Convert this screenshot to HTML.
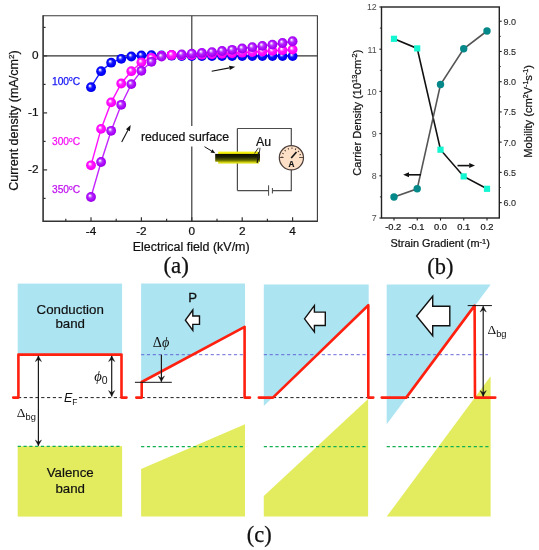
<!DOCTYPE html>
<html lang="en">
<head>
<meta charset="utf-8">
<title>Figure</title>
<style>
html,body{margin:0;padding:0;background:#fff;}
body{width:539px;height:550px;overflow:hidden;}
svg{display:block;}
.sa{font-family:"Liberation Sans",Arial,Helvetica,sans-serif;}
.se{font-family:"Liberation Serif","Times New Roman",Times,serif;}

</style>
</head>
<body>
<svg width="539" height="550" viewBox="0 0 539 550" fill="#111">
<defs>
<radialGradient id="gb" cx="0.5" cy="0.5" r="0.52" fx="0.37" fy="0.34">
<stop offset="0" stop-color="#ffffff"/><stop offset="0.1" stop-color="#e8e8ff"/><stop offset="0.26" stop-color="#7070ff"/><stop offset="0.45" stop-color="#1414ff"/><stop offset="0.8" stop-color="#0000fa"/><stop offset="1" stop-color="#0000dc"/>
</radialGradient>
<radialGradient id="gm" cx="0.5" cy="0.5" r="0.52" fx="0.37" fy="0.34">
<stop offset="0" stop-color="#ffffff"/><stop offset="0.1" stop-color="#ffe8ff"/><stop offset="0.26" stop-color="#ff80ff"/><stop offset="0.45" stop-color="#ff1cff"/><stop offset="0.8" stop-color="#ff00ff"/><stop offset="1" stop-color="#e600e6"/>
</radialGradient>
<radialGradient id="gp" cx="0.5" cy="0.5" r="0.52" fx="0.37" fy="0.34">
<stop offset="0" stop-color="#ffffff"/><stop offset="0.1" stop-color="#f4e4ff"/><stop offset="0.26" stop-color="#cf7aff"/><stop offset="0.45" stop-color="#b424ff"/><stop offset="0.8" stop-color="#a800fa"/><stop offset="1" stop-color="#9200dc"/>
</radialGradient>
<linearGradient id="slab" x1="0" y1="0" x2="0" y2="1">
<stop offset="0" stop-color="#f8f410"/><stop offset="0.22" stop-color="#f0ec00"/><stop offset="0.78" stop-color="#c4c400"/><stop offset="1" stop-color="#e0e020"/>
</linearGradient>
<linearGradient id="slab2" x1="0" y1="0" x2="0" y2="1">
<stop offset="0" stop-color="#0c0c00"/><stop offset="0.4" stop-color="#1c2000"/><stop offset="0.75" stop-color="#565c00"/><stop offset="1" stop-color="#a4a800"/>
</linearGradient>
</defs>
<rect width="539" height="550" fill="#fff"/>
<g id="panel-a">
<path d="M43.1 15.8H317.4V221.3" fill="none" stroke="#3a3a3a" stroke-width="1.1"/>
<path d="M43.1 15.3V221.3H317.9" fill="none" stroke="#333" stroke-width="1.6"/>
<line x1="43.1" y1="55.9" x2="317.4" y2="55.9" stroke="#333" stroke-width="1.15"/>
<line x1="191.8" y1="15.8" x2="191.8" y2="221.3" stroke="#333" stroke-width="1.15"/>
<line x1="43.1" y1="27.4" x2="45.6" y2="27.4" stroke="#333" stroke-width="1.2"/>
<line x1="43.1" y1="55.9" x2="47.1" y2="55.9" stroke="#333" stroke-width="1.2"/>
<line x1="43.1" y1="84.4" x2="45.6" y2="84.4" stroke="#333" stroke-width="1.2"/>
<line x1="43.1" y1="112.9" x2="47.1" y2="112.9" stroke="#333" stroke-width="1.2"/>
<line x1="43.1" y1="141.4" x2="45.6" y2="141.4" stroke="#333" stroke-width="1.2"/>
<line x1="43.1" y1="169.9" x2="47.1" y2="169.9" stroke="#333" stroke-width="1.2"/>
<line x1="43.1" y1="198.4" x2="45.6" y2="198.4" stroke="#333" stroke-width="1.2"/>
<line x1="65.8" y1="221.3" x2="65.8" y2="218.8" stroke="#333" stroke-width="1.2"/>
<line x1="91" y1="221.3" x2="91" y2="217.3" stroke="#333" stroke-width="1.2"/>
<line x1="116.2" y1="221.3" x2="116.2" y2="218.8" stroke="#333" stroke-width="1.2"/>
<line x1="141.4" y1="221.3" x2="141.4" y2="217.3" stroke="#333" stroke-width="1.2"/>
<line x1="166.6" y1="221.3" x2="166.6" y2="218.8" stroke="#333" stroke-width="1.2"/>
<line x1="191.8" y1="221.3" x2="191.8" y2="217.3" stroke="#333" stroke-width="1.2"/>
<line x1="217" y1="221.3" x2="217" y2="218.8" stroke="#333" stroke-width="1.2"/>
<line x1="242.2" y1="221.3" x2="242.2" y2="217.3" stroke="#333" stroke-width="1.2"/>
<line x1="267.4" y1="221.3" x2="267.4" y2="218.8" stroke="#333" stroke-width="1.2"/>
<line x1="292.6" y1="221.3" x2="292.6" y2="217.3" stroke="#333" stroke-width="1.2"/>
<text stroke="#111" stroke-width="0.22" x="38.5" y="59.3" text-anchor="end" class="sa" font-size="11.8">0</text>
<text stroke="#111" stroke-width="0.22" x="38.5" y="116.3" text-anchor="end" class="sa" font-size="11.8">-1</text>
<text stroke="#111" stroke-width="0.22" x="38.5" y="173.3" text-anchor="end" class="sa" font-size="11.8">-2</text>
<text stroke="#111" stroke-width="0.22" x="91" y="234.8" text-anchor="middle" class="sa" font-size="11.8">-4</text>
<text stroke="#111" stroke-width="0.22" x="141.4" y="234.8" text-anchor="middle" class="sa" font-size="11.8">-2</text>
<text stroke="#111" stroke-width="0.22" x="191.8" y="234.8" text-anchor="middle" class="sa" font-size="11.8">0</text>
<text stroke="#111" stroke-width="0.22" x="242.2" y="234.8" text-anchor="middle" class="sa" font-size="11.8">2</text>
<text stroke="#111" stroke-width="0.22" x="292.6" y="234.8" text-anchor="middle" class="sa" font-size="11.8">4</text>
<text stroke="#111" stroke-width="0.22" transform="translate(18.2,120.5) rotate(-90)" text-anchor="middle" class="sa" font-size="12.55">Current density (mA/cm<tspan dy="-4" font-size="8">2</tspan><tspan dy="4">)</tspan></text>
<text stroke="#111" stroke-width="0.22" x="191.2" y="251" text-anchor="middle" class="sa" font-size="12.45">Electrical field (kV/m)</text>
<text x="176.2" y="273" text-anchor="middle" class="se" font-size="23" stroke="#111" stroke-width="0.25">(a)</text>
<polyline points="91,87.2 101.08,71.2 111.16,62.7 121.24,58.8 131.32,56.5 141.4,55.5 151.48,55.1 161.56,55.4 171.64,55.7 181.72,56 191.8,56.1 201.88,56.1 211.96,56.1 222.04,56.1 232.12,56.1 242.2,56.1 252.28,56.1 262.36,56.1 272.44,56.1 282.52,56.1 292.6,56.1" fill="none" stroke="#1a1aff" stroke-width="1.4"/>
<circle cx="91" cy="87.2" r="4.9" fill="url(#gb)"/>
<circle cx="101.08" cy="71.2" r="4.9" fill="url(#gb)"/>
<circle cx="111.16" cy="62.7" r="4.9" fill="url(#gb)"/>
<circle cx="121.24" cy="58.8" r="4.9" fill="url(#gb)"/>
<circle cx="131.32" cy="56.5" r="4.9" fill="url(#gb)"/>
<circle cx="141.4" cy="55.5" r="4.9" fill="url(#gb)"/>
<circle cx="151.48" cy="55.1" r="4.9" fill="url(#gb)"/>
<circle cx="161.56" cy="55.4" r="4.9" fill="url(#gb)"/>
<circle cx="171.64" cy="55.7" r="4.9" fill="url(#gb)"/>
<circle cx="181.72" cy="56" r="4.9" fill="url(#gb)"/>
<circle cx="191.8" cy="56.1" r="4.9" fill="url(#gb)"/>
<circle cx="201.88" cy="56.1" r="4.9" fill="url(#gb)"/>
<circle cx="211.96" cy="56.1" r="4.9" fill="url(#gb)"/>
<circle cx="222.04" cy="56.1" r="4.9" fill="url(#gb)"/>
<circle cx="232.12" cy="56.1" r="4.9" fill="url(#gb)"/>
<circle cx="242.2" cy="56.1" r="4.9" fill="url(#gb)"/>
<circle cx="252.28" cy="56.1" r="4.9" fill="url(#gb)"/>
<circle cx="262.36" cy="56.1" r="4.9" fill="url(#gb)"/>
<circle cx="272.44" cy="56.1" r="4.9" fill="url(#gb)"/>
<circle cx="282.52" cy="56.1" r="4.9" fill="url(#gb)"/>
<circle cx="292.6" cy="56.1" r="4.9" fill="url(#gb)"/>
<polyline points="91,165.3 101.08,128.9 111.16,102.4 121.24,83.5 131.32,71.2 141.4,62.3 151.48,57.8 161.56,55.9 171.64,55.3 181.72,55.4 191.8,55.1 201.88,54.7 211.96,54.3 222.04,53.8 232.12,53.3 242.2,52.7 252.28,52.1 262.36,51.5 272.44,50.9 282.52,50.2 292.6,49.5" fill="none" stroke="#ff10ff" stroke-width="1.4"/>
<circle cx="91" cy="165.3" r="4.9" fill="url(#gm)"/>
<circle cx="101.08" cy="128.9" r="4.9" fill="url(#gm)"/>
<circle cx="111.16" cy="102.4" r="4.9" fill="url(#gm)"/>
<circle cx="121.24" cy="83.5" r="4.9" fill="url(#gm)"/>
<circle cx="131.32" cy="71.2" r="4.9" fill="url(#gm)"/>
<circle cx="141.4" cy="62.3" r="4.9" fill="url(#gm)"/>
<circle cx="151.48" cy="57.8" r="4.9" fill="url(#gm)"/>
<circle cx="161.56" cy="55.9" r="4.9" fill="url(#gm)"/>
<circle cx="171.64" cy="55.3" r="4.9" fill="url(#gm)"/>
<circle cx="181.72" cy="55.4" r="4.9" fill="url(#gm)"/>
<circle cx="191.8" cy="55.1" r="4.9" fill="url(#gm)"/>
<circle cx="201.88" cy="54.7" r="4.9" fill="url(#gm)"/>
<circle cx="211.96" cy="54.3" r="4.9" fill="url(#gm)"/>
<circle cx="222.04" cy="53.8" r="4.9" fill="url(#gm)"/>
<circle cx="232.12" cy="53.3" r="4.9" fill="url(#gm)"/>
<circle cx="242.2" cy="52.7" r="4.9" fill="url(#gm)"/>
<circle cx="252.28" cy="52.1" r="4.9" fill="url(#gm)"/>
<circle cx="262.36" cy="51.5" r="4.9" fill="url(#gm)"/>
<circle cx="272.44" cy="50.9" r="4.9" fill="url(#gm)"/>
<circle cx="282.52" cy="50.2" r="4.9" fill="url(#gm)"/>
<circle cx="292.6" cy="49.5" r="4.9" fill="url(#gm)"/>
<polyline points="91,197 101.08,162 111.16,130.8 121.24,104.8 131.32,84.1 141.4,70.8 151.48,61.8 161.56,56.6 171.64,55 181.72,54.4 191.8,53.6 201.88,52.9 211.96,52.1 222.04,51 232.12,49.8 242.2,48.5 252.28,47.2 262.36,45.9 272.44,44.6 282.52,43 292.6,41.2" fill="none" stroke="#c425ff" stroke-width="1.4"/>
<circle cx="91" cy="197" r="4.9" fill="url(#gp)"/>
<circle cx="101.08" cy="162" r="4.9" fill="url(#gp)"/>
<circle cx="111.16" cy="130.8" r="4.9" fill="url(#gp)"/>
<circle cx="121.24" cy="104.8" r="4.9" fill="url(#gp)"/>
<circle cx="131.32" cy="84.1" r="4.9" fill="url(#gp)"/>
<circle cx="141.4" cy="70.8" r="4.9" fill="url(#gp)"/>
<circle cx="151.48" cy="61.8" r="4.9" fill="url(#gp)"/>
<circle cx="161.56" cy="56.6" r="4.9" fill="url(#gp)"/>
<circle cx="171.64" cy="55" r="4.9" fill="url(#gp)"/>
<circle cx="181.72" cy="54.4" r="4.9" fill="url(#gp)"/>
<circle cx="191.8" cy="53.6" r="4.9" fill="url(#gp)"/>
<circle cx="201.88" cy="52.9" r="4.9" fill="url(#gp)"/>
<circle cx="211.96" cy="52.1" r="4.9" fill="url(#gp)"/>
<circle cx="222.04" cy="51" r="4.9" fill="url(#gp)"/>
<circle cx="232.12" cy="49.8" r="4.9" fill="url(#gp)"/>
<circle cx="242.2" cy="48.5" r="4.9" fill="url(#gp)"/>
<circle cx="252.28" cy="47.2" r="4.9" fill="url(#gp)"/>
<circle cx="262.36" cy="45.9" r="4.9" fill="url(#gp)"/>
<circle cx="272.44" cy="44.6" r="4.9" fill="url(#gp)"/>
<circle cx="282.52" cy="43" r="4.9" fill="url(#gp)"/>
<circle cx="292.6" cy="41.2" r="4.9" fill="url(#gp)"/>
<circle cx="171.64" cy="54.9" r="4.9" fill="url(#gm)"/>
<text x="52" y="84.8" class="sa" font-size="10.2" fill="#1414f4" stroke="#1414f4" stroke-width="0.25">100<tspan dy="-3.5" font-size="6.5">o</tspan><tspan dy="3.5">C</tspan></text>
<text x="52" y="145" class="sa" font-size="10.2" fill="#f410f4" stroke="#f410f4" stroke-width="0.25">300<tspan dy="-3.5" font-size="6.5">o</tspan><tspan dy="3.5">C</tspan></text>
<text x="52" y="193.3" class="sa" font-size="10.2" fill="#c014ee" stroke="#c014ee" stroke-width="0.25">350<tspan dy="-3.5" font-size="6.5">o</tspan><tspan dy="3.5">C</tspan></text>
<line x1="121.7" y1="142" x2="127.89" y2="130.3" stroke="#111" stroke-width="1.1"/>
<polygon points="130.7,125 129.84,131.33 125.95,129.27" fill="#111"/>
<line x1="211.7" y1="71.2" x2="229.4" y2="67.9" stroke="#111" stroke-width="1.1"/>
<polygon points="235.3,66.8 229.8,70.06 229,65.74" fill="#111"/>
<rect x="139" y="126" width="92" height="20.5" fill="#fff"/>
<text stroke="#111" stroke-width="0.22" x="140.9" y="141.2" class="sa" font-size="12.3">reduced surface</text>
<text stroke="#111" stroke-width="0.22" x="256" y="146.1" class="sa" font-size="12.3">Au</text>
<path d="M237.4 128.5H291.3V190.6H272.4M268.6 190.6H237.4Z" fill="none" stroke="#4c4c4c" stroke-width="1.2"/>
<path d="M237.4 128.5V190.6" fill="none" stroke="#4c4c4c" stroke-width="1.2"/>
<line x1="268.6" y1="185.3" x2="268.6" y2="195.7" stroke="#444" stroke-width="1"/>
<line x1="272.4" y1="188" x2="272.4" y2="193.5" stroke="#444" stroke-width="1"/>
<rect x="218.2" y="151.6" width="40.6" height="12" fill="url(#slab)"/>
<rect x="215.2" y="153.9" width="44.8" height="7.9" fill="url(#slab2)"/>
<line x1="258.6" y1="152.2" x2="257.2" y2="163" stroke="#1a1a10" stroke-width="1.3"/>
<line x1="204.5" y1="146.7" x2="211.44" y2="150.88" stroke="#111" stroke-width="1"/>
<polygon points="215.3,153.2 210.52,152.42 212.37,149.34" fill="#111"/>
<line x1="258.4" y1="147.8" x2="254.6" y2="153.4" stroke="#222" stroke-width="0.9"/>
<line x1="260" y1="147.8" x2="258.4" y2="160" stroke="#222" stroke-width="0.9"/>
<circle cx="291.4" cy="157.8" r="12.1" fill="#fde0c6" stroke="#4a3c38" stroke-width="1.2"/>
<path d="M282.1 157.6A9.3 9.3 0 0 1 300.7 157.6" fill="none" stroke="#4a3c38" stroke-width="1.5" stroke-dasharray="1 2.65"/>
<path d="M279.6 157.5H283.6M299.2 157.5H303.2" fill="none" stroke="#4a3c38" stroke-width="0.9"/>
<line x1="291.2" y1="158" x2="296.5" y2="152" stroke="#111" stroke-width="1.6"/>
<text stroke="#111" stroke-width="0.22" x="291.4" y="166.9" text-anchor="middle" class="sa" font-size="8.2" font-weight="bold">A</text>
</g>
<g id="panel-b">
<rect x="381.5" y="7.0" width="117.8" height="211" fill="#fff" stroke="#222" stroke-width="1.4"/>
<line x1="381.5" y1="218" x2="379.4" y2="218" stroke="#222" stroke-width="1.1"/>
<line x1="381.5" y1="196.9" x2="379.9" y2="196.9" stroke="#222" stroke-width="0.9"/>
<text x="376.8" y="221.3" text-anchor="end" class="sa" font-size="8.9" fill="#4a4a4a" stroke="none">7</text>
<line x1="381.5" y1="175.8" x2="379.4" y2="175.8" stroke="#222" stroke-width="1.1"/>
<line x1="381.5" y1="154.7" x2="379.9" y2="154.7" stroke="#222" stroke-width="0.9"/>
<text x="376.8" y="179.1" text-anchor="end" class="sa" font-size="8.9" fill="#4a4a4a" stroke="none">8</text>
<line x1="381.5" y1="133.6" x2="379.4" y2="133.6" stroke="#222" stroke-width="1.1"/>
<line x1="381.5" y1="112.5" x2="379.9" y2="112.5" stroke="#222" stroke-width="0.9"/>
<text x="376.8" y="136.9" text-anchor="end" class="sa" font-size="8.9" fill="#4a4a4a" stroke="none">9</text>
<line x1="381.5" y1="91.4" x2="379.4" y2="91.4" stroke="#222" stroke-width="1.1"/>
<line x1="381.5" y1="70.3" x2="379.9" y2="70.3" stroke="#222" stroke-width="0.9"/>
<text x="376.8" y="94.7" text-anchor="end" class="sa" font-size="8.9" fill="#4a4a4a" stroke="none">10</text>
<line x1="381.5" y1="49.2" x2="379.4" y2="49.2" stroke="#222" stroke-width="1.1"/>
<line x1="381.5" y1="28.1" x2="379.9" y2="28.1" stroke="#222" stroke-width="0.9"/>
<text x="376.8" y="52.5" text-anchor="end" class="sa" font-size="8.9" fill="#4a4a4a" stroke="none">11</text>
<line x1="381.5" y1="7" x2="379.4" y2="7" stroke="#222" stroke-width="1.1"/>
<text x="376.8" y="10.3" text-anchor="end" class="sa" font-size="8.9" fill="#4a4a4a" stroke="none">12</text>
<line x1="499.3" y1="202.6" x2="501.7" y2="202.6" stroke="#222" stroke-width="1.1"/>
<line x1="499.3" y1="187.49" x2="500.8" y2="187.49" stroke="#222" stroke-width="0.9"/>
<text x="503.6" y="206" class="sa" font-size="9.0" fill="#2a2a2a" stroke="#2a2a2a" stroke-width="0.12">6.0</text>
<line x1="499.3" y1="172.38" x2="501.7" y2="172.38" stroke="#222" stroke-width="1.1"/>
<line x1="499.3" y1="157.26" x2="500.8" y2="157.26" stroke="#222" stroke-width="0.9"/>
<text x="503.6" y="175.78" class="sa" font-size="9.0" fill="#2a2a2a" stroke="#2a2a2a" stroke-width="0.12">6.5</text>
<line x1="499.3" y1="142.15" x2="501.7" y2="142.15" stroke="#222" stroke-width="1.1"/>
<line x1="499.3" y1="127.04" x2="500.8" y2="127.04" stroke="#222" stroke-width="0.9"/>
<text x="503.6" y="145.55" class="sa" font-size="9.0" fill="#2a2a2a" stroke="#2a2a2a" stroke-width="0.12">7.0</text>
<line x1="499.3" y1="111.92" x2="501.7" y2="111.92" stroke="#222" stroke-width="1.1"/>
<line x1="499.3" y1="96.81" x2="500.8" y2="96.81" stroke="#222" stroke-width="0.9"/>
<text x="503.6" y="115.32" class="sa" font-size="9.0" fill="#2a2a2a" stroke="#2a2a2a" stroke-width="0.12">7.5</text>
<line x1="499.3" y1="81.7" x2="501.7" y2="81.7" stroke="#222" stroke-width="1.1"/>
<line x1="499.3" y1="66.59" x2="500.8" y2="66.59" stroke="#222" stroke-width="0.9"/>
<text x="503.6" y="85.1" class="sa" font-size="9.0" fill="#2a2a2a" stroke="#2a2a2a" stroke-width="0.12">8.0</text>
<line x1="499.3" y1="51.47" x2="501.7" y2="51.47" stroke="#222" stroke-width="1.1"/>
<line x1="499.3" y1="36.36" x2="500.8" y2="36.36" stroke="#222" stroke-width="0.9"/>
<text x="503.6" y="54.87" class="sa" font-size="9.0" fill="#2a2a2a" stroke="#2a2a2a" stroke-width="0.12">8.5</text>
<line x1="499.3" y1="21.25" x2="501.7" y2="21.25" stroke="#222" stroke-width="1.1"/>
<text x="503.6" y="24.65" class="sa" font-size="9.0" fill="#2a2a2a" stroke="#2a2a2a" stroke-width="0.12">9.0</text>
<line x1="394" y1="218.0" x2="394" y2="220.6" stroke="#222" stroke-width="1.1"/>
<text stroke="#111" stroke-width="0.22" x="393.2" y="229.6" text-anchor="middle" class="sa" font-size="9.3" fill="#222">-0.2</text>
<line x1="417.25" y1="218.0" x2="417.25" y2="220.6" stroke="#222" stroke-width="1.1"/>
<text stroke="#111" stroke-width="0.22" x="416.45" y="229.6" text-anchor="middle" class="sa" font-size="9.3" fill="#222">-0.1</text>
<line x1="440.5" y1="218.0" x2="440.5" y2="220.6" stroke="#222" stroke-width="1.1"/>
<text stroke="#111" stroke-width="0.22" x="440.5" y="229.6" text-anchor="middle" class="sa" font-size="9.3" fill="#222">0.0</text>
<line x1="463.75" y1="218.0" x2="463.75" y2="220.6" stroke="#222" stroke-width="1.1"/>
<text stroke="#111" stroke-width="0.22" x="463.75" y="229.6" text-anchor="middle" class="sa" font-size="9.3" fill="#222">0.1</text>
<line x1="487" y1="218.0" x2="487" y2="220.6" stroke="#222" stroke-width="1.1"/>
<text stroke="#111" stroke-width="0.22" x="487" y="229.6" text-anchor="middle" class="sa" font-size="9.3" fill="#222">0.2</text>
<text stroke="#111" stroke-width="0.22" transform="translate(360.6,112.6) rotate(-90)" text-anchor="middle" class="sa" font-size="11.05">Carrier Density (10<tspan dy="-3.5" font-size="7.5">13</tspan><tspan dy="3.5">cm</tspan><tspan dy="-3.5" font-size="7.5">-2</tspan><tspan dy="3.5">)</tspan></text>
<text stroke="#111" stroke-width="0.22" transform="translate(531.6,111.4) rotate(-90)" text-anchor="middle" class="sa" font-size="11.15">Mobility (cm<tspan dy="-3.2" font-size="7">2</tspan><tspan dy="3.2">V</tspan><tspan dy="-3.2" font-size="7">-1</tspan><tspan dy="3.2">s</tspan><tspan dy="-3.2" font-size="7">-1</tspan><tspan dy="3.2">)</tspan></text>
<text stroke="#111" stroke-width="0.22" x="440.2" y="247" text-anchor="middle" class="sa" font-size="10.9">Strain Gradient (m<tspan dy="-3.5" font-size="7.5">-1</tspan><tspan dy="3.5">)</tspan></text>
<text x="440.4" y="273.8" text-anchor="middle" class="se" font-size="22.4" stroke="#111" stroke-width="0.25">(b)</text>
<polyline points="394,38.8 417.2,48.4 440.5,149.7 463.7,176.4 487,188.8" fill="none" stroke="#111" stroke-width="1.6"/>
<polyline points="394,197 417.2,188.8 440.5,84.5 463.7,48.8 487,31" fill="none" stroke="#555" stroke-width="1.6"/>
<rect x="390.9" y="35.7" width="6.2" height="6.2" fill="#12f6d2"/>
<rect x="414.1" y="45.3" width="6.2" height="6.2" fill="#12f6d2"/>
<rect x="437.4" y="146.6" width="6.2" height="6.2" fill="#12f6d2"/>
<rect x="460.6" y="173.3" width="6.2" height="6.2" fill="#12f6d2"/>
<rect x="483.9" y="185.7" width="6.2" height="6.2" fill="#12f6d2"/>
<circle cx="394" cy="197" r="3.7" fill="#04888a"/>
<circle cx="417.2" cy="188.8" r="3.7" fill="#04888a"/>
<circle cx="440.5" cy="84.5" r="3.7" fill="#04888a"/>
<circle cx="463.7" cy="48.8" r="3.7" fill="#04888a"/>
<circle cx="487" cy="31" r="3.7" fill="#04888a"/>
<line x1="421" y1="174.8" x2="409" y2="174.8" stroke="#111" stroke-width="1.6"/>
<polygon points="403.2,174.8 409,172.3 409,177.3" fill="#111"/>
<line x1="457.5" y1="165.6" x2="469.2" y2="165.6" stroke="#111" stroke-width="1.6"/>
<polygon points="475,165.6 469.2,168.1 469.2,163.1" fill="#111"/>
</g>
<g id="panel-c">
<rect x="17.7" y="283.6" width="104.4" height="71" fill="#ade4f2"/>
<rect x="17.7" y="446.2" width="104.4" height="70.4" fill="#e3ec5f"/>
<polygon points="141.1,283.6 245,283.6 245,326.4 141.1,382" fill="#ade4f2"/>
<polygon points="141.1,469.1 245,424.2 245,516.6 141.1,516.6" fill="#e3ec5f"/>
<polygon points="263.8,284.4 368.7,284.4 368.7,305 263.8,406" fill="#ade4f2"/>
<polygon points="263.8,496.1 368.1,399 368.1,516.6 263.8,516.6" fill="#e3ec5f"/>
<polygon points="386.7,284.4 490.7,284.4 386.7,424.2" fill="#ade4f2"/>
<polygon points="490.6,376.2 490.6,516.6 386.7,516.6" fill="#e3ec5f"/>
<line x1="18" y1="397.6" x2="62" y2="397.6" stroke="#222" stroke-width="1" stroke-dasharray="3.2 2.6"/>
<line x1="79" y1="397.6" x2="121" y2="397.6" stroke="#222" stroke-width="1" stroke-dasharray="3.2 2.6"/>
<line x1="17.7" y1="446.4" x2="122" y2="446.4" stroke="#12b050" stroke-width="1.2" stroke-dasharray="3.2 2.6"/>
<line x1="141.5" y1="397.6" x2="244" y2="397.6" stroke="#222" stroke-width="1" stroke-dasharray="3.2 2.6"/>
<line x1="141.1" y1="354.7" x2="245" y2="354.7" stroke="#5a5ad6" stroke-width="0.9" stroke-dasharray="3.2 2.6"/>
<line x1="141.1" y1="446.6" x2="245" y2="446.6" stroke="#12b050" stroke-width="1.2" stroke-dasharray="3.2 2.6"/>
<line x1="273" y1="397.6" x2="368" y2="397.6" stroke="#222" stroke-width="1" stroke-dasharray="3.2 2.6"/>
<line x1="263.8" y1="354.7" x2="368.7" y2="354.7" stroke="#5a5ad6" stroke-width="0.9" stroke-dasharray="3.2 2.6"/>
<line x1="263.8" y1="446.6" x2="366.5" y2="446.6" stroke="#12b050" stroke-width="1.2" stroke-dasharray="3.2 2.6"/>
<line x1="406" y1="397.6" x2="475" y2="397.6" stroke="#222" stroke-width="1" stroke-dasharray="3.2 2.6"/>
<line x1="386.7" y1="354.7" x2="488" y2="354.7" stroke="#5a5ad6" stroke-width="0.9" stroke-dasharray="3.2 2.6"/>
<line x1="386.7" y1="446.6" x2="489" y2="446.6" stroke="#12b050" stroke-width="1.2" stroke-dasharray="3.2 2.6"/>
<path d="M13.2 397.6H18.4V354.6H121.5V397.6H126.5" fill="none" stroke="#ff2010" stroke-width="2.6" stroke-linejoin="round" stroke-linecap="round"/>
<path d="M136.3 397.6H141.7V382L244.6 326.8V397.6H250" fill="none" stroke="#ff2010" stroke-width="2.6" stroke-linejoin="round" stroke-linecap="round"/>
<path d="M258.8 397.6H272.9L368.3 305.2V397.6H373.3" fill="none" stroke="#ff2010" stroke-width="2.6" stroke-linejoin="round" stroke-linecap="round"/>
<path d="M381.7 397.6H406.2L474.6 305.6L475 397.6H495.3" fill="none" stroke="#ff2010" stroke-width="2.6" stroke-linejoin="round" stroke-linecap="round"/>
<line x1="111.7" y1="355.8" x2="111.7" y2="396.4" stroke="#1a1a1a" stroke-width="1.2"/>
<path d="M108.6 361.6L111.7 356L114.8 361.6L111.7 359.4Z" fill="#111" stroke="#111" stroke-width="0.4" stroke-linejoin="miter"/>
<path d="M108.6 390.6L111.7 396.2L114.8 390.6L111.7 392.8Z" fill="#111" stroke="#111" stroke-width="0.4" stroke-linejoin="miter"/>
<line x1="38.4" y1="355.8" x2="38.4" y2="445.8" stroke="#1a1a1a" stroke-width="1.2"/>
<path d="M35.3 361.6L38.4 356L41.5 361.6L38.4 359.4Z" fill="#111" stroke="#111" stroke-width="0.4" stroke-linejoin="miter"/>
<path d="M35.3 440L38.4 445.6L41.5 440L38.4 442.2Z" fill="#111" stroke="#111" stroke-width="0.4" stroke-linejoin="miter"/>
<line x1="161.4" y1="354.7" x2="161.4" y2="381.8" stroke="#1a1a1a" stroke-width="1.2"/>
<path d="M158.3 376L161.4 381.6L164.5 376L161.4 378.2Z" fill="#111" stroke="#111" stroke-width="0.4" stroke-linejoin="miter"/>
<line x1="134.9" y1="382.3" x2="171.8" y2="382.3" stroke="#111" stroke-width="1"/>
<line x1="483.2" y1="306.2" x2="483.2" y2="396.4" stroke="#1a1a1a" stroke-width="1.2"/>
<path d="M480.1 312L483.2 306.4L486.3 312L483.2 309.8Z" fill="#111" stroke="#111" stroke-width="0.4" stroke-linejoin="miter"/>
<path d="M480.1 390.6L483.2 396.2L486.3 390.6L483.2 392.8Z" fill="#111" stroke="#111" stroke-width="0.4" stroke-linejoin="miter"/>
<line x1="467.7" y1="305.6" x2="491.9" y2="305.6" stroke="#111" stroke-width="1"/>
<polygon points="185.4,320.2 192.8,310.0 192.8,316.0 199.5,316.0 199.5,324.4 192.8,324.4 192.8,330.4" fill="#fff" stroke="#111" stroke-width="1.4" stroke-linejoin="miter"/>
<polygon points="304.5,318.8 314.4,305.6 314.4,312.1 325.3,312.1 325.3,325.5 314.4,325.5 314.4,332.0" fill="#fff" stroke="#111" stroke-width="1.4" stroke-linejoin="miter"/>
<polygon points="416.6,316 432.7,296.2 432.7,306.3 449.8,306.3 449.8,325.7 432.7,325.7 432.7,335.8" fill="#fff" stroke="#111" stroke-width="1.4" stroke-linejoin="miter"/>
<text x="70.2" y="313.6" text-anchor="middle" class="sa" font-size="13.3" stroke="#111" stroke-width="0.2">Conduction</text>
<text x="70.2" y="327.7" text-anchor="middle" class="sa" font-size="13.3" stroke="#111" stroke-width="0.2">band</text>
<text x="70.2" y="476.6" text-anchor="middle" class="sa" font-size="13.3" stroke="#111" stroke-width="0.2">Valence</text>
<text x="70.2" y="492.6" text-anchor="middle" class="sa" font-size="13.3" stroke="#111" stroke-width="0.2">band</text>
<text x="64" y="402" class="sa" font-size="12.5" font-style="italic">E<tspan dy="3" font-size="8.5" font-style="normal">F</tspan></text>
<text x="94.2" y="381" class="se" font-size="14.6" font-style="italic">ϕ<tspan dy="3" font-size="10.5" font-style="normal" class="sa">0</tspan></text>
<text x="16.8" y="417" class="se" font-size="13.5">Δ<tspan dy="3" font-size="9.3" class="sa">bg</tspan></text>
<text x="152.8" y="347" class="se" font-size="14.2">Δ<tspan font-style="italic">ϕ</tspan></text>
<text x="188.2" y="301.8" class="sa" font-size="13.2" stroke="#111" stroke-width="0.3">P</text>
<text x="487.5" y="334" class="se" font-size="13.5">Δ<tspan dy="3" font-size="9.3" class="sa">bg</tspan></text>
<text x="259.3" y="542" text-anchor="middle" class="se" font-size="22.4" stroke="#111" stroke-width="0.25">(c)</text>
</g>
</svg>
</body>
</html>
